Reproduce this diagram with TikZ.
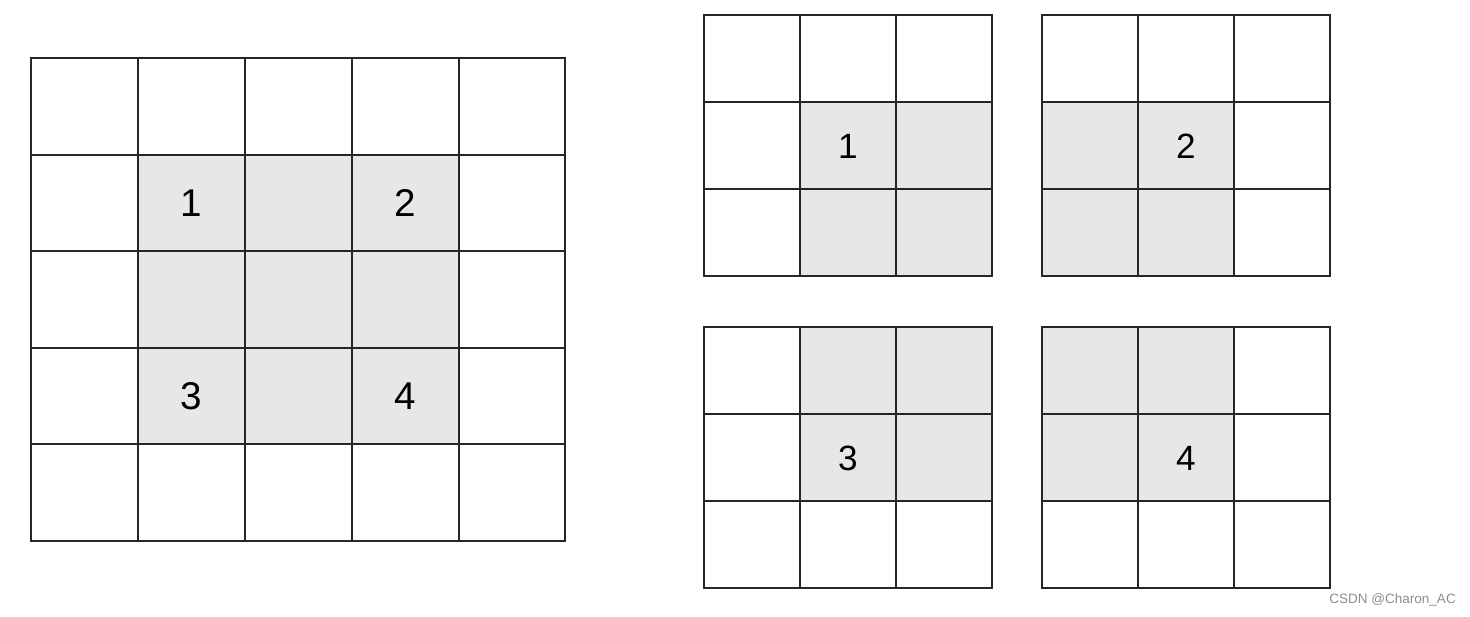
\documentclass[tikz,border=0pt]{standalone}
\usepackage{fontspec}
\setmainfont{Liberation Sans}
\definecolor{cellgray}{HTML}{E6E7E8}
\tikzset{gridline/.style={line width=1.1pt, black!85, line cap=rect},
         bignum/.style={font=\fontsize{22}{22}\selectfont},
         smallnum/.style={font=\fontsize{20}{20}\selectfont}}

\begin{document}
\begin{tikzpicture}[x=0.02cm, y=-0.02cm]
\useasboundingbox (0,0) rectangle (1470,616);

% big 5x5 grid
\fill[cellgray] (138,155) rectangle (459,444);
\foreach \x in {31,138,245,352,459,565} \draw[gridline] (\x,58) -- (\x,541);
\foreach \y in {58,155,251,348,444,541} \draw[gridline] (31,\y) -- (565,\y);
\node[bignum] (b1) at (191.5,203) {1};
\node[bignum] (b2) at (405.5,203) {2};
\node[bignum] (b3) at (191.5,396) {3};
\node[bignum] (b4) at (405.5,396) {4};

% small 3x3 grids
\begin{scope}[shift={(704,15)}]
\fill[cellgray] (96,87) rectangle (288,261);
\foreach \x in {0,96,192,288} \draw[gridline] (\x,0) -- (\x,261);
\foreach \y in {0,87,174,261} \draw[gridline] (0,\y) -- (288,\y);
\node[smallnum] (s1) at (144,131) {1};
\end{scope}
\begin{scope}[shift={(1042,15)}]
\fill[cellgray] (0,87) rectangle (192,261);
\foreach \x in {0,96,192,288} \draw[gridline] (\x,0) -- (\x,261);
\foreach \y in {0,87,174,261} \draw[gridline] (0,\y) -- (288,\y);
\node[smallnum] (s2) at (144,131) {2};
\end{scope}
\begin{scope}[shift={(704,327)}]
\fill[cellgray] (96,0) rectangle (288,174);
\foreach \x in {0,96,192,288} \draw[gridline] (\x,0) -- (\x,261);
\foreach \y in {0,87,174,261} \draw[gridline] (0,\y) -- (288,\y);
\node[smallnum] (s3) at (144,131) {3};
\end{scope}
\begin{scope}[shift={(1042,327)}]
\fill[cellgray] (0,0) rectangle (192,174);
\foreach \x in {0,96,192,288} \draw[gridline] (\x,0) -- (\x,261);
\foreach \y in {0,87,174,261} \draw[gridline] (0,\y) -- (288,\y);
\node[smallnum] (s4) at (144,131) {4};
\end{scope}

\node[anchor=east, text=black!45, font=\fontsize{7.7}{7.7}\selectfont] (mark) at (1462,600) {CSDN @Charon\_AC};
\end{tikzpicture}
\end{document}
